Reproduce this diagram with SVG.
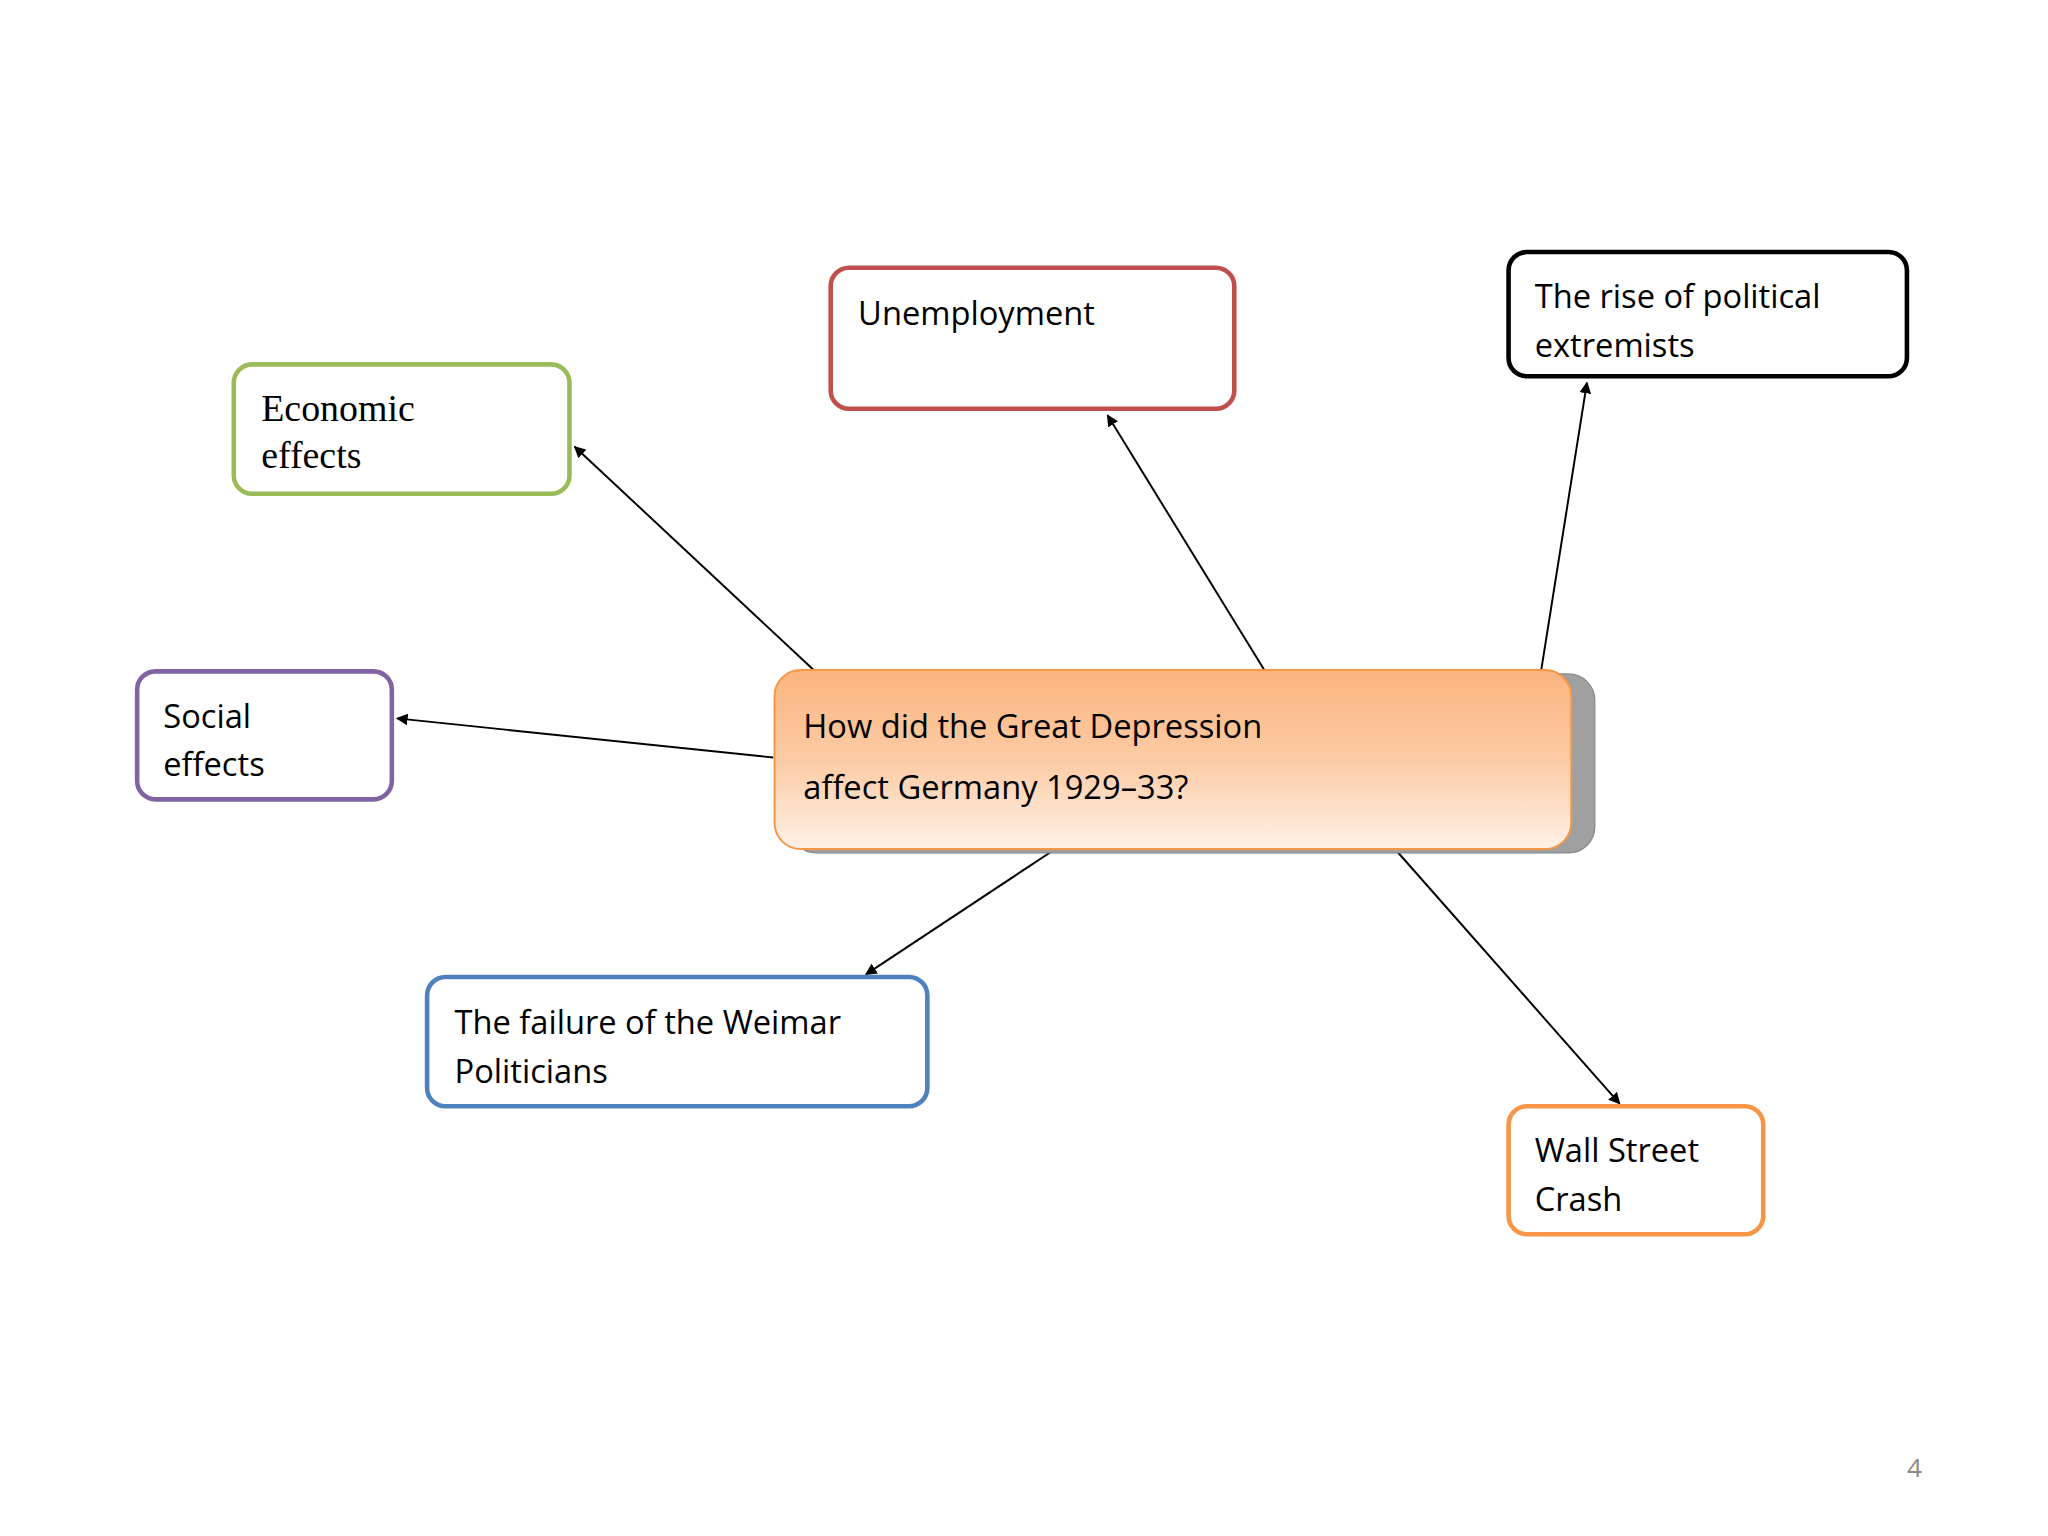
<svg xmlns="http://www.w3.org/2000/svg" width="2048" height="1536" viewBox="0 0 2048 1536">
<style>
.box{fill:#fff;stroke-width:3.5}
.t{font-family:"Open Sans","Liberation Sans",sans-serif;font-size:25px;fill:#000}
.s{font-family:"Liberation Serif",serif;font-size:29px;fill:#000}
.c{stroke:#000;stroke-width:1.5;fill:none;marker-end:url(#ah)}
</style>
<defs>
<marker id="ah" viewBox="0 0 10 10" refX="9" refY="5" markerWidth="9" markerHeight="9" markerUnits="userSpaceOnUse" orient="auto"><path d="M0,0L10,5L0,10z" fill="#000"/></marker>
<linearGradient id="g" x1="0" y1="0" x2="0" y2="1"><stop offset="0" stop-color="#FBB57F"/><stop offset="0.5" stop-color="#FCCBA4"/><stop offset="1" stop-color="#FEF1E7"/></linearGradient>
</defs>
<rect width="2048" height="1536" fill="#fff"/>
<g transform="scale(1.30612)">
<g id="connectors">
<line class="c" x1="623" y1="513" x2="440" y2="342"/>
<line class="c" x1="968" y1="513" x2="848" y2="318"/>
<line class="c" x1="1180" y1="513" x2="1215" y2="293"/>
<line class="c" x1="592" y1="580" x2="304" y2="550"/>
<line class="c" x1="808" y1="650" x2="663" y2="746"/>
<line class="c" x1="1068" y1="650" x2="1240" y2="845"/>
</g>
<g id="economic"><rect class="box" x="179" y="279" width="257" height="99" rx="14" stroke="#9BBB59"/><text class="s" x="200" y="322">Economic</text><text class="s" x="200" y="358">effects</text></g>
<g id="unemployment"><rect class="box" x="636" y="205" width="309" height="108" rx="14" stroke="#C0504D"/><text class="t" x="657" y="249">Unemployment</text></g>
<g id="rise"><rect class="box" x="1155" y="193" width="305" height="95" rx="14" stroke="#000" stroke-width="4"/><text class="t" x="1175" y="236">The rise of political</text><text class="t" x="1175" y="273">extremists</text></g>
<g id="social"><rect class="box" x="105" y="514" width="195" height="98" rx="14" stroke="#8064A2"/><text class="t" x="125" y="557">Social</text><text class="t" x="125" y="594">effects</text></g>
<g id="central"><rect x="605" y="516" width="616" height="137" rx="20" fill="#A0A0A0" stroke="#8a8a8a"/><rect x="593" y="513" width="610" height="137" rx="20" fill="url(#g)" stroke="#F79646" stroke-width="1.5"/><text class="t" x="615" y="565" font-size="34">How did the Great Depression</text><text class="t" x="615" y="612" font-size="34">affect Germany 1929–33?</text></g>
<g id="weimar"><rect class="box" x="327" y="748" width="383" height="99" rx="14" stroke="#4F81BD"/><text class="t" x="348" y="792">The failure of the Weimar</text><text class="t" x="348" y="829">Politicians</text></g>
<g id="wallstreet"><rect class="box" x="1155" y="847" width="195" height="98" rx="14" stroke="#F79646"/><text class="t" x="1175" y="890">Wall Street</text><text class="t" x="1175" y="927">Crash</text></g>
<text x="1460" y="1131" font-family="'Open Sans',sans-serif" font-size="20" fill="#888">4</text>
</g>
</svg>
